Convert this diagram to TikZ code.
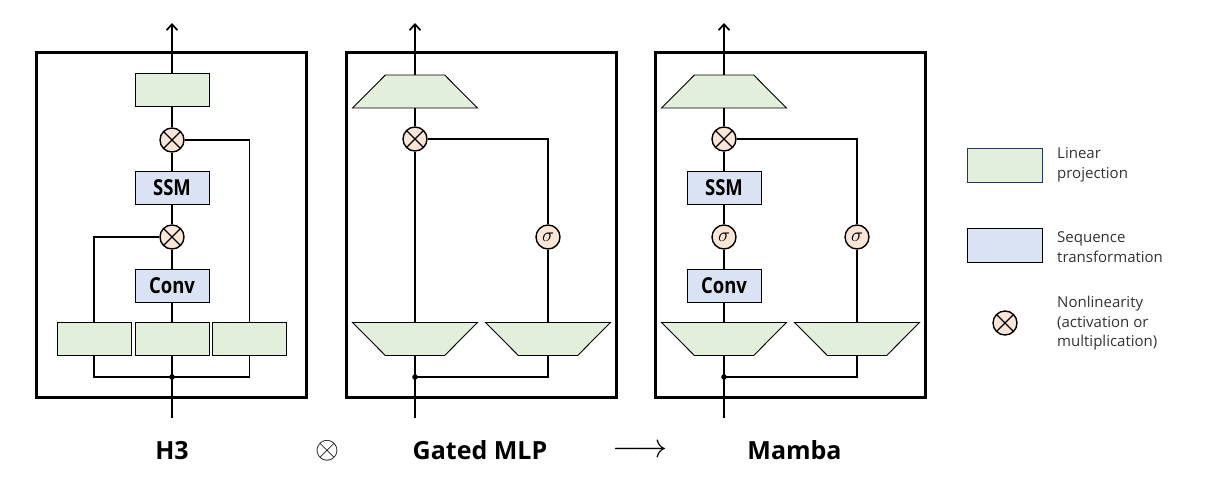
\documentclass[tikz,border=0pt]{standalone}
\usepackage{fontspec}
\usepackage{graphicx}
\setmainfont{Open Sans}
\newfontfamily\boxfont[FakeStretch=0.84]{Open Sans}
\usetikzlibrary{arrows.meta}
\usetikzlibrary{shapes.geometric}
\usetikzlibrary{positioning}

\definecolor{lingreen}{HTML}{E2EFDA}
\definecolor{seqblue}{HTML}{DAE3F3}
\definecolor{nonpeach}{HTML}{FBE5D6}
\definecolor{legnavy}{HTML}{1F3864}

\tikzset{
  blockframe/.style={line width=3pt},
  wire/.style={line width=1.7pt},
  outarrow/.style={-{Straight Barb[length=6pt,width=11pt]}},
  linbox/.style={draw, line width=0.9pt, fill=lingreen, minimum width=74pt, minimum height=33pt, inner sep=0pt},
  seqbox/.style={draw, line width=0.9pt, fill=seqblue, minimum width=74pt, minimum height=33pt, inner sep=0pt, font=\fontsize{22}{22}\boxfont\bfseries},
  lintrap/.style={trapezium, trapezium stretches=true, trapezium angle=61, draw, line width=0.9pt, fill=lingreen, minimum width=125pt, minimum height=33pt, inner sep=1pt},
  lintrapdown/.style={lintrap, shape border rotate=180},
  nonlin/.style={circle, draw, line width=1.4pt, fill=nonpeach, minimum size=24pt, inner sep=0pt,
    path picture={\draw[line width=1.3pt] (path picture bounding box.north west) -- (path picture bounding box.south east)
      (path picture bounding box.south west) -- (path picture bounding box.north east);}},
  sigmanode/.style={circle, draw, line width=1.4pt, fill=nonpeach, minimum size=24pt, inner sep=0pt},
  legtext/.style={anchor=west, align=left, inner sep=0pt, text=black!80, font=\fontsize{15}{19.5}\selectfont},
  blocklabel/.style={anchor=base, inner sep=0pt, font=\fontsize{25}{25}\selectfont\bfseries},
}
\newcommand{\sig}{\resizebox{12pt}{!}{$\sigma$}}

\begin{document}
\begin{tikzpicture}[x=1pt, y=-1pt]
  \useasboundingbox (0,0) rectangle (1209,480);
  \foreach \xl in {36,346,655}
    \draw[blockframe] (\xl,52) rectangle +(270,345);

  % H3
  \coordinate (h3top) at (172,23);
  \coordinate (h3jn) at (172,377);
  \coordinate (h3bot) at (172,418);
  \node[linbox] (h3out) at (172,90) {};
  \node[nonlin] (h3mulB) at (172,140) {};
  \node[seqbox] (h3ssm) at (172,187.5) {SSM};
  \node[nonlin] (h3mulA) at (172,237) {};
  \node[seqbox] (h3conv) at (172,285.5) {Conv};
  \node[linbox] (h3l1) at (94,338.5) {};
  \node[linbox] (h3l2) at (172,338.5) {};
  \node[linbox] (h3l3) at (249.5,338.5) {};
  \draw[wire] (h3bot) -- (h3l2);
  \draw[wire] (h3l1) |- (h3jn) -| (h3l3);
  \fill (h3jn) circle (2.8pt);
  \draw[wire] (h3l2) -- (h3conv) -- (h3mulA) -- (h3ssm) -- (h3mulB) -- (h3out);
  \draw[wire, outarrow] (h3out) -- (h3top);
  \draw[wire] (h3l1) |- (h3mulA);
  \draw[wire] (h3l3) |- (h3mulB);

  % Gated MLP
  \coordinate (gmtop) at (415,23);
  \coordinate (gmjn) at (415,377);
  \coordinate (gmbot) at (415,418);
  \node[lintrap] (gmout) at (415,91.5) {};
  \node[nonlin] (gmmul) at (415,139) {};
  \node[sigmanode] (gmsig) at (548,237) {\sig};
  \node[lintrapdown] (gml1) at (415,339) {};
  \node[lintrapdown] (gml2) at (548,339) {};
  \draw[wire] (gmbot) -- (gml1);
  \draw[wire] (gml2) |- (gmjn);
  \fill (gmjn) circle (2.8pt);
  \draw[wire] (gml1) -- (gmmul) -- (gmout);
  \draw[wire, outarrow] (gmout) -- (gmtop);
  \draw[wire] (gml2) -- (gmsig) |- (gmmul);

  % Mamba
  \coordinate (mbtop) at (724,23);
  \coordinate (mbjn) at (724,377);
  \coordinate (mbbot) at (724,418);
  \node[lintrap] (mbout) at (724,91.5) {};
  \node[nonlin] (mbmul) at (724,139) {};
  \node[seqbox] (mbssm) at (724,187.5) {SSM};
  \node[sigmanode] (mbsigA) at (724,237) {\sig};
  \node[seqbox] (mbconv) at (724,285.5) {Conv};
  \node[lintrapdown] (mbl1) at (724,339) {};
  \node[lintrapdown] (mbl2) at (857,339) {};
  \node[sigmanode] (mbsigB) at (857,237) {\sig};
  \draw[wire] (mbbot) -- (mbl1);
  \draw[wire] (mbl2) |- (mbjn);
  \fill (mbjn) circle (2.8pt);
  \draw[wire] (mbl1) -- (mbconv) -- (mbsigA) -- (mbssm) -- (mbmul) -- (mbout);
  \draw[wire, outarrow] (mbout) -- (mbtop);
  \draw[wire] (mbl2) -- (mbsigB) |- (mbmul);

  % legend
  \node[linbox, draw=legnavy, minimum width=75pt, minimum height=34pt] (lgLin) at (1004.5,165) {};
  \node[legtext] (lgLinTxt) at (1057,165) {Linear\\projection};
  \node[seqbox, minimum width=75pt, minimum height=34pt] (lgSeq) at (1004.5,245) {};
  \node[legtext] (lgSeqTxt) at (1057,247) {Sequence\\transformation};
  \node[nonlin] (lgNon) at (1005,323) {};
  \node[legtext] (lgNonTxt) at (1057,323.5) {Nonlinearity\\(activation or\\multiplication)};

  % labels
  \node[blocklabel] (lblH3) at (172,459.5) {H3};
  \node[inner sep=0pt] (lblOtimes) at (327,451) {\resizebox{24pt}{!}{$\otimes$}};
  \node[blocklabel] (lblGM) at (480,459.5) {Gated MLP};
  \node[inner sep=0pt] (lblArrow) at (640,451) {\resizebox{55pt}{!}{$\longrightarrow$}};
  \node[blocklabel] (lblMB) at (794.5,459.5) {Mamba};
\end{tikzpicture}
\end{document}
